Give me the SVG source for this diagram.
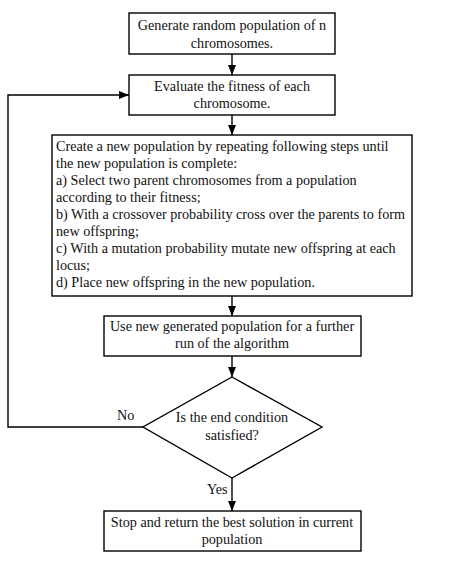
<svg xmlns="http://www.w3.org/2000/svg" width="474" height="565" viewBox="0 0 474 565">
<defs>
<marker id="ah" viewBox="0 0 10 10" refX="10" refY="5" markerWidth="10" markerHeight="10" markerUnits="userSpaceOnUse" orient="auto">
<path d="M0,1 L10,5 L0,9 Z" fill="#000"/>
</marker>
<style>
.box{fill:#fff;stroke:#000;stroke-width:1.4}
.t{font-family:"Liberation Serif","Times New Roman",serif;font-size:14.2px;fill:#111}
.c{text-anchor:middle}
.ln{fill:none;stroke:#000;stroke-width:1.4}
</style>
</defs>
<rect width="474" height="565" fill="#fff"/>
<g id="connectors">
<path class="ln" d="M232,54 V75" marker-end="url(#ah)"/>
<path class="ln" d="M232,115 V135" marker-end="url(#ah)"/>
<path class="ln" d="M232,296 V316" marker-end="url(#ah)"/>
<path class="ln" d="M232,356 V377" marker-end="url(#ah)"/>
<path class="ln" d="M232,478 V511" marker-end="url(#ah)"/>
<path class="ln" d="M143,427 H8 V95 H129" marker-end="url(#ah)"/>
<text class="t" x="117" y="420">No</text>
<text class="t" x="207" y="494">Yes</text>
</g>
<g id="n1">
<rect class="box" x="129" y="13" width="206" height="41"/>
<text class="t c" x="232" y="30">Generate random population of n</text>
<text class="t c" x="232" y="47.5">chromosomes.</text>
</g>
<g id="n2">
<rect class="box" x="129" y="75" width="206" height="40"/>
<text class="t c" x="232" y="90.5">Evaluate the fitness of each</text>
<text class="t c" x="232" y="107.5">chromosome.</text>
</g>
<g id="n3">
<rect class="box" x="52" y="135" width="360" height="161"/>
<text class="t" x="56" y="150.5">Create a new population by repeating following steps until</text>
<text class="t" x="56" y="167.6">the new population is complete:</text>
<text class="t" x="56" y="184.7">a) Select two parent chromosomes from a population</text>
<text class="t" x="56" y="201.8">according to their fitness;</text>
<text class="t" x="56" y="218.9">b) With a crossover probability cross over the parents to form</text>
<text class="t" x="56" y="236">new offspring;</text>
<text class="t" x="56" y="253.1">c) With a mutation probability mutate new offspring at each</text>
<text class="t" x="56" y="270.2">locus;</text>
<text class="t" x="56" y="287.3">d) Place new offspring in the new population.</text>
</g>
<g id="n4">
<rect class="box" x="104" y="316" width="257" height="40"/>
<text class="t c" x="232" y="331">Use new generated population for a further</text>
<text class="t c" x="232" y="348">run of the algorithm</text>
</g>
<g id="n5">
<path class="box" d="M232,377 L322,427 L232,478 L143,427 Z"/>
<text class="t c" x="232" y="422">Is the end condition</text>
<text class="t c" x="232" y="440">satisfied?</text>
</g>
<g id="n6">
<rect class="box" x="104" y="511" width="257" height="40"/>
<text class="t c" x="232" y="527">Stop and return the best solution in current</text>
<text class="t c" x="232" y="544">population</text>
</g>
</svg>
